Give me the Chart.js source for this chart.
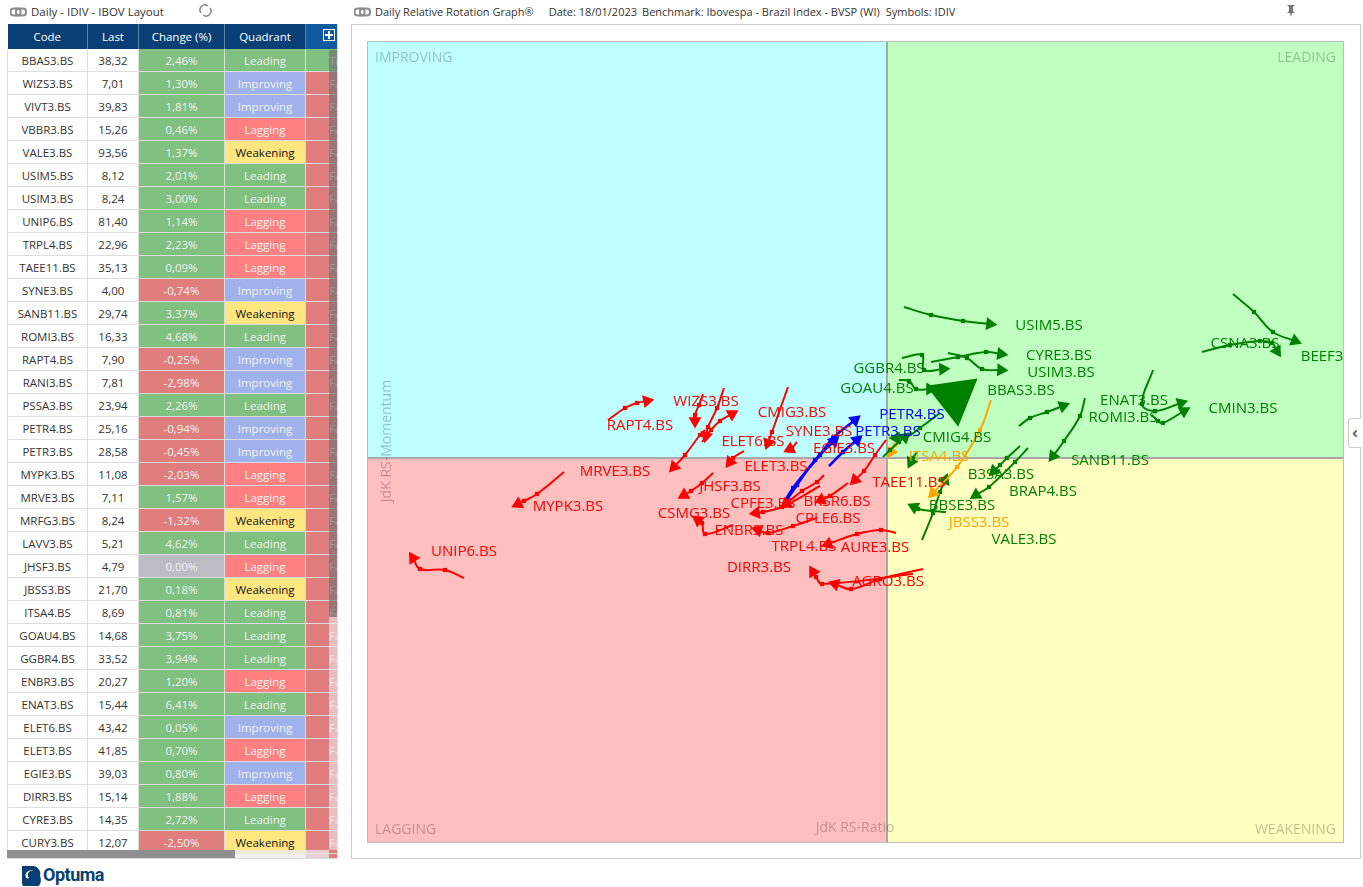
<!DOCTYPE html>
<html>
<head>
<meta charset="utf-8">
<script src="https://cdn.jsdelivr.net/npm/chart.js@4"></script>
<style>
html,body{margin:0;padding:0;background:#fff;width:1363px;height:887px;overflow:hidden;font-family:"Open Sans",sans-serif;}
.abs{position:absolute;}
#title1,#title2{color:#333;font-size:11.5px;white-space:nowrap;line-height:14px;}
#title2{font-size:11px;}
#title2 span{margin-left:15px;}
#title2 span.b{margin-left:5px;}
#title2 span.s{margin-left:6px;}
#tablewrap{left:7px;top:24px;width:330px;height:834px;overflow:hidden;border-right:1px solid #ddd;border-bottom:1px solid #ddd;box-sizing:content-box;}
table{border-collapse:collapse;table-layout:fixed;width:420px;font-size:11.5px;color:#333;}
th{height:25px;padding:0;background:#0a3f75;color:#fff;font-weight:400;border-right:1px solid #5f83a6;text-align:center;}
th:last-child{background:#10599e;border-right:0;}
td{height:22px;padding:0;text-align:center;border:1px solid #ddd;border-top:0;white-space:nowrap;overflow:hidden;}
td.w{color:#f2f2f2;}
td.k{color:#111;}
td.x{text-align:left;padding-left:23px;color:#f4dede;background:#e07e7e;}
#frame{left:351px;top:24px;width:1010px;height:835px;border:1px solid #ccc;box-sizing:border-box;}
canvas{position:absolute;left:337px;top:11px;}
#tab{left:1348px;top:418px;width:13px;height:30px;background:#fff;border:1px solid #ccc;border-right:0;border-radius:3px 0 0 3px;box-sizing:border-box;color:#666;font-size:16px;line-height:26px;text-align:center;font-weight:700;}
#logo{left:43px;top:864px;font:700 18px/22px Roboto,sans-serif;color:#0a3f75;letter-spacing:-.5px;}
</style>
</head>
<body>
<svg class="abs" style="left:10px;top:7px" width="17" height="10"><rect x="0.5" y="1.5" width="10" height="7" rx="3" fill="none" stroke="#8a8a8a" stroke-width="2"/><rect x="6" y="1.5" width="10" height="7" rx="3" fill="none" stroke="#8a8a8a" stroke-width="2"/></svg>
<div id="title1" class="abs" style="left:31px;top:5px;">Daily - IDIV - IBOV Layout</div>
<svg class="abs" style="left:199px;top:4px" width="13" height="13"><path d="M2 9A5 5 0 0 1 9 2M11 4A5 5 0 0 1 4 11" fill="none" stroke="#888" stroke-width="1.5"/></svg>
<svg class="abs" style="left:354px;top:7px" width="17" height="10"><rect x="0.5" y="1.5" width="10" height="7" rx="3" fill="none" stroke="#8a8a8a" stroke-width="2"/><rect x="6" y="1.5" width="10" height="7" rx="3" fill="none" stroke="#8a8a8a" stroke-width="2"/></svg>
<div id="title2" class="abs" style="left:375px;top:5px;">Daily Relative Rotation Graph®<span>Date: 18/01/2023</span><span class="b">Benchmark: Ibovespa - Brazil Index - BVSP (WI)</span><span class="s">Symbols: IDIV</span></div>
<svg class="abs" style="left:1285px;top:4px" width="12" height="13"><path d="M2 1H10L8 3V7L10 9H7L6 13L5 9H2L4 7V3Z" fill="#777"/></svg>

<div id="tablewrap" class="abs"><table id="tbl"></table></div>
<div class="abs" style="left:329px;top:50px;width:8px;height:567px;background:rgba(110,110,110,.62)"></div>
<div class="abs" style="left:329px;top:617px;width:8px;height:233px;background:rgba(235,235,235,.6)"></div>
<div class="abs" style="left:235px;top:850px;width:94px;height:8px;background:rgba(235,235,235,.75)"></div>
<div class="abs" style="left:7px;top:850px;width:228px;height:8px;background:#8f8f8f"></div>
<svg class="abs" style="left:323px;top:29px" width="12" height="12"><rect x=".5" y=".5" width="11" height="11" fill="none" stroke="#fff"/><path d="M6 2V10M2 6H10" stroke="#fff" stroke-width="2"/></svg>

<div id="frame" class="abs"></div>
<canvas id="rrg" width="1037" height="862"></canvas>
<div id="tab" class="abs">‹</div>

<svg class="abs" style="left:20px;top:864px" width="22" height="22"><path d="M2 2H14A8 8 0 0 1 20 12A9 9 0 0 1 2 20Z" fill="#0a3f75"/><path d="M6 14A5.5 5.5 0 0 1 15 8A4 4 0 0 0 9 14A3 3 0 0 1 6 14Z" fill="#fff"/></svg>
<div id="logo" class="abs">Optuma</div>

<script>
// ---------- table columns ----------
const codes = ["BBAS3.BS","WIZS3.BS","VIVT3.BS","VBBR3.BS","VALE3.BS","USIM5.BS","USIM3.BS","UNIP6.BS","TRPL4.BS","TAEE11.BS","SYNE3.BS","SANB11.BS","ROMI3.BS","RAPT4.BS","RANI3.BS","PSSA3.BS","PETR4.BS","PETR3.BS","MYPK3.BS","MRVE3.BS","MRFG3.BS","LAVV3.BS","JHSF3.BS","JBSS3.BS","ITSA4.BS","GOAU4.BS","GGBR4.BS","ENBR3.BS","ENAT3.BS","ELET6.BS","ELET3.BS","EGIE3.BS","DIRR3.BS","CYRE3.BS","CURY3.BS"];
const lasts = ["38,32","7,01","39,83","15,26","93,56","8,12","8,24","81,40","22,96","35,13","4,00","29,74","16,33","7,90","7,81","23,94","25,16","28,58","11,08","7,11","8,24","5,21","4,79","21,70","8,69","14,68","33,52","20,27","15,44","43,42","41,85","39,03","15,14","14,35","12,07"];
const changes = [2.46,1.30,1.81,0.46,1.37,2.01,3.00,1.14,2.23,0.09,-0.74,3.37,4.68,-0.25,-2.98,2.26,-0.94,-0.45,-2.03,1.57,-1.32,4.62,0.00,0.18,0.81,3.75,3.94,1.20,6.41,0.05,0.70,0.80,1.88,2.72,-2.50];
const quadrants = ["Leading","Improving","Improving","Lagging","Weakening","Leading","Leading","Lagging","Lagging","Lagging","Improving","Weakening","Leading","Improving","Improving","Leading","Improving","Improving","Lagging","Lagging","Weakening","Leading","Lagging","Weakening","Leading","Leading","Leading","Lagging","Leading","Improving","Lagging","Improving","Lagging","Leading","Weakening"];

// ---------- tails: [RS-Ratio, RS-Momentum] ----------
const tUSIM5 = [[100.17,101.51],[100.44,101.43],[100.76,101.37],[101.03,101.34]];
const tCYRE3 = [[100.44,100.96],[100.71,101.01],[100.99,101.06],[101.14,101.04]];
const tUSIM3 = [[100.61,101.05],[100.80,101.00],[100.95,100.89],[101.14,100.88]];
const tGGBR4 = [[100.15,101.00],[100.35,101.03],[100.37,100.88],[100.56,100.89]];
const tGOAU4 = [[100.12,100.78],[100.22,100.77],[100.29,100.69],[100.43,100.69]];
const tBBAS3 = [[100.65,100.75],[100.66,100.68],[100.67,100.61]];
const tCMIG4 = [[100.53,100.45],[100.33,100.30],[100.18,100.20],[100.09,100.20]];
const tPSSA3 = [[99.96,100.01],[100.03,100.08],[100.12,100.16],[100.18,100.21]];
const tLAVV3 = [[100.30,100.06],[100.26,100.00],[100.24,99.96]];
const tITSA4 = [[100.13,100.21],[100.08,100.13],[100.04,100.06]];
const tJBSS3 = [[101.04,100.58],[100.93,100.28],[100.70,99.91],[100.46,99.65]];
const tB3SA3 = [[101.33,100.12],[101.20,100.00],[101.13,99.93],[101.07,99.87]];
const tBRAP4 = [[101.41,100.10],[101.28,99.96],[101.02,99.71],[100.89,99.63]];
const tVALE3 = [[100.35,99.18],[100.46,99.45],[100.53,99.66],[100.58,99.78]];
const tBBSE3 = [[100.59,99.46],[100.46,99.47],[100.31,99.49],[100.27,99.51]];
const tENAT3 = [[102.66,100.88],[102.55,100.54],[102.68,100.47],[102.94,100.55]];
const tROMI3 = [[102.65,100.43],[102.71,100.37],[102.76,100.35],[102.97,100.47]];
const tCSNA3 = [[103.15,101.06],[103.43,101.13],[103.73,101.17],[103.85,101.15],[103.90,101.07]];
const tBEEF3 = [[103.46,101.64],[103.67,101.46],[103.86,101.26],[104.08,101.17]];
const tSANB11 = [[101.98,100.60],[101.93,100.42],[101.77,100.17],[101.66,100.02]];
const tCMIN3 = [[101.32,100.32],[101.43,100.40],[101.60,100.46],[101.76,100.52]];
const tUNIP6 = [[95.77,98.80],[95.58,98.88],[95.33,98.89],[95.26,99.00]];
const tMYPK3 = [[96.77,99.86],[96.50,99.64],[96.37,99.57],[96.31,99.54]];
const tRAPT4 = [[97.21,100.38],[97.38,100.50],[97.50,100.55],[97.60,100.57]];
const tWIZS3 = [[98.16,100.64],[98.12,100.53],[98.08,100.43],[98.08,100.37]];
const tELET6 = [[98.37,100.70],[98.30,100.50],[98.21,100.31],[98.19,100.22]];
const tVIVT3 = [[98.15,100.16],[98.24,100.28],[98.33,100.37],[98.45,100.44]];
const tMRVE3 = [[98.18,100.28],[98.13,100.23],[97.98,100.03],[97.87,99.91]];
const tCMIG3 = [[99.01,100.71],[98.85,100.26],[98.81,100.15]];
const tSYNE3 = [[99.10,100.16],[99.05,100.10],[99.03,100.09]];
const tELET3 = [[98.57,100.07],[98.46,100.00],[98.43,99.96]];
const tJHSF3 = [[98.26,99.85],[98.15,99.75],[98.04,99.67],[97.97,99.63]];
const tCSMG3 = [[98.46,99.33],[98.18,99.24],[98.15,99.35],[98.11,99.38]];
const tENBR3 = [[99.30,99.40],[99.06,99.32],[98.81,99.25],[98.71,99.28]];
const tCPFE3 = [[99.33,99.72],[98.95,99.51],[98.76,99.46],[98.69,99.45]];
const tCPLE6 = [[99.37,99.83],[99.30,99.76],[99.15,99.67],[98.99,99.54]];
const tTAEE11 = [[99.99,100.18],[99.88,100.03],[99.77,99.87],[99.68,99.78]];
const tBRSR6 = [[99.61,99.75],[99.43,99.62],[99.34,99.58]];
const tAURE3 = [[100.09,99.25],[99.94,99.28],[99.70,99.24],[99.41,99.14]];
const tAGRO3 = [[100.36,98.89],[99.93,98.79],[99.64,98.69],[99.48,98.74]];
const tDIRR3 = [[100.26,98.84],[99.35,98.74],[99.29,98.81],[99.26,98.86]];
const tPETR4 = [[98.95,99.51],[99.06,99.70],[99.33,100.03],[99.46,100.20],[99.68,100.38]];
const tPETR3 = [[98.95,99.51],[99.10,99.73],[99.28,99.98],[99.47,100.17]];
const tRANI3 = [[99.42,99.92],[99.56,100.06],[99.70,100.18]];

const tailNames = ["USIM5","CYRE3","USIM3","GGBR4","GOAU4","CMIG4","PSSA3","LAVV3","ITSA4","JBSS3","B3SA3","BRAP4","VALE3","BBSE3","ENAT3","ROMI3","CSNA3","BEEF3","SANB11","CMIN3","UNIP6","MYPK3","RAPT4","WIZS3","ELET6","VIVT3","MRVE3","CMIG3","SYNE3","ELET3","JHSF3","CSMG3","ENBR3","CPFE3","CPLE6","TAEE11","BRSR6","AURE3","AGRO3","DIRR3","PETR4","PETR3","RANI3","BBAS3"];
const tails = [tUSIM5,tCYRE3,tUSIM3,tGGBR4,tGOAU4,tCMIG4,tPSSA3,tLAVV3,tITSA4,tJBSS3,tB3SA3,tBRAP4,tVALE3,tBBSE3,tENAT3,tROMI3,tCSNA3,tBEEF3,tSANB11,tCMIN3,tUNIP6,tMYPK3,tRAPT4,tWIZS3,tELET6,tVIVT3,tMRVE3,tCMIG3,tSYNE3,tELET3,tJHSF3,tCSMG3,tENBR3,tCPFE3,tCPLE6,tTAEE11,tBRSR6,tAURE3,tAGRO3,tDIRR3,tPETR4,tPETR3,tRANI3,tBBAS3];

// ---------- symbol labels (read at their plotted place) ----------
const labelNames = ["USIM5.BS","CYRE3.BS","USIM3.BS","GGBR4.BS","GOAU4.BS","BBAS3.BS","ENAT3.BS","ROMI3.BS","CMIN3.BS","CSNA3.BS","BEEF3.BS","PETR4.BS","PETR3.BS","CMIG4.BS","ITSA4.BS","SANB11.BS","B3SA3.BS","BRAP4.BS","TAEE11.BS","BBSE3.BS","JBSS3.BS","VALE3.BS","AGRO3.BS","AURE3.BS","TRPL4.BS","DIRR3.BS","CPLE6.BS","ENBR3.BS","BRSR6.BS","CPFE3.BS","CSMG3.BS","JHSF3.BS","ELET3.BS","ELET6.BS","EGIE3.BS","SYNE3.BS","CMIG3.BS","WIZS3.BS","RAPT4.BS","MRVE3.BS","MYPK3.BS","UNIP6.BS"];
const labelRatio = [101.62,101.72,101.74,100.02,99.90,101.34,102.47,102.36,103.56,103.58,104.46,100.25,100.01,100.70,100.52,102.23,101.14,101.56,100.22,100.75,100.92,101.37,100.01,99.88,99.17,98.72,99.41,98.62,99.50,98.76,98.07,98.43,98.89,98.66,99.57,99.32,99.05,98.19,97.53,97.28,96.81,95.77];
const labelMomentum = [101.33,101.03,100.86,100.90,100.70,100.68,100.58,100.41,100.50,101.15,101.02,100.44,100.27,100.21,100.02,99.98,99.84,99.67,99.76,99.53,99.36,99.19,98.77,99.11,99.12,98.91,99.40,99.28,99.57,99.55,99.45,99.72,99.92,100.17,100.10,100.27,100.46,100.57,100.33,99.87,99.52,99.07];

const redNames = ["AGRO3","AURE3","TRPL4","DIRR3","CPLE6","ENBR3","BRSR6","CPFE3","CSMG3","JHSF3","ELET3","ELET6","EGIE3","SYNE3","CMIG3","WIZS3","RAPT4","MRVE3","MYPK3","UNIP6","TAEE11","VIVT3"];
const blueNames = ["PETR4","PETR3","RANI3"];
const orangeNames = ["ITSA4","JBSS3"];

const quadrantNames = ["IMPROVING","LEADING","LAGGING","WEAKENING"];
const axisRatioTitle = "JdK RS-Ratio";
const axisMomentumTitle = "JdK RS-Momentum";

// ---------- colours ----------
const GREEN="#008000", RED="#ff0000", BLUE="#0000ff", ORANGE="#ffa500";
function colorOf(n){const b=n.replace(".BS","");
  return redNames.includes(b)?RED:blueNames.includes(b)?BLUE:orangeNames.includes(b)?ORANGE:GREEN;}
const quadColor={Leading:"#80c080",Improving:"#a0b2ec",Lagging:"#ff8080",Weakening:"#ffe680"};

// ---------- table ----------
const tbl=document.getElementById("tbl");
let h='<colgroup><col style="width:80px"><col style="width:51px"><col style="width:86px"><col style="width:81px"><col></colgroup>';
h+='<tr><th>Code</th><th>Last</th><th>Change (%)</th><th>Quadrant</th><th></th></tr>';
codes.forEach((c,i)=>{
  const v=changes[i], bg=v>0?"#80c080":v<0?"#e07e7e":"#bcbcc4";
  const txt=v.toFixed(2).replace(".",",")+"%", q=quadrants[i];
  const last=i===0?' style="background:#80c080"':'';
  h+=`<tr><td>${c}</td><td>${lasts[i]}</td><td class="w" style="background:${bg}">${txt}</td><td class="${q==="Weakening"?"k":"w"}" style="background:${quadColor[q]}">${q}</td><td class="x"${last}>${i===0?"True":"False"}</td></tr>`;
});
h+='<tr><td></td><td></td><td style="background:#80c080"></td><td></td><td class="x"></td></tr>';
tbl.innerHTML=h;

// ---------- chart ----------
const bigArrow="BBAS3";
const lineDatasets=tails.map((t,i)=>{
  const n=tailNames[i], col=colorOf(n), last=t.length-1;
  const headR=n===bigArrow?30:7.5;
  return {
    label:n,
    data:t.map(p=>({x:p[0],y:p[1]})),
    showLine:true,
    borderColor:col,
    backgroundColor:col,
    borderWidth:blueNames.includes(n)?2.6:2,
    tension:0.4,
    pointBorderWidth:0,
    pointBackgroundColor:col,
    pointHoverRadius:0,
    pointStyle:c=>c.dataIndex===last?"triangle":"rect",
    pointRadius:c=>c.dataIndex===0?0:(c.dataIndex===last?headR:3),
    pointRotation:c=>{
      if(c.dataIndex!==last) return 0;
      const a=t[last-1], b=t[last];
      return Math.atan2(b[0]-a[0],b[1]-a[1])*180/Math.PI;
    }
  };
});

const rrgBackdrop={
  id:"rrgBackdrop",
  beforeDatasetsDraw(chart){
    const {ctx,chartArea:a,scales:{x,y}}=chart;
    const cx=x.getPixelForValue(100), cy=y.getPixelForValue(100);
    ctx.save();
    ctx.fillStyle="#bfffff"; ctx.fillRect(a.left,a.top,cx-a.left,cy-a.top);
    ctx.fillStyle="#bfffbf"; ctx.fillRect(cx,a.top,a.right-cx,cy-a.top);
    ctx.fillStyle="#ffbfbf"; ctx.fillRect(a.left,cy,cx-a.left,a.bottom-cy);
    ctx.fillStyle="#ffffbf"; ctx.fillRect(cx,cy,a.right-cx,a.bottom-cy);
    ctx.strokeStyle="#a8a8a8"; ctx.lineWidth=2;
    ctx.beginPath(); ctx.moveTo(cx,a.top); ctx.lineTo(cx,a.bottom); ctx.moveTo(a.left,cy); ctx.lineTo(a.right,cy); ctx.stroke();
    ctx.strokeStyle="#bdbdbd"; ctx.lineWidth=1;
    ctx.strokeRect(a.left+.5,a.top+.5,a.right-a.left-1,a.bottom-a.top-1);
    ctx.font='14px "Open Sans"'; ctx.fillStyle="rgba(0,0,0,.25)"; ctx.textBaseline="middle";
    ctx.textAlign="left";
    ctx.fillText(quadrantNames[0],a.left+8,a.top+17);
    ctx.fillText(quadrantNames[2],a.left+8,a.bottom-13);
    ctx.textAlign="right";
    ctx.fillText(quadrantNames[1],a.right-8,a.top+17);
    ctx.fillText(quadrantNames[3],a.right-8,a.bottom-13);
    ctx.textAlign="center";
    ctx.fillText(axisRatioTitle,x.getPixelForValue(99.68),a.bottom-15);
    ctx.translate(a.left+20,y.getPixelForValue(100.17));
    ctx.rotate(-Math.PI/2);
    ctx.fillText(axisMomentumTitle,0,0);
    ctx.restore();
  }
};
const rrgLabels={
  id:"rrgLabels",
  afterDatasetsDraw(chart){
    const {ctx,chartArea:a,scales:{x,y}}=chart;
    ctx.save();
    ctx.beginPath(); ctx.rect(a.left,a.top,a.right-a.left,a.bottom-a.top); ctx.clip();
    ctx.font='15px "Open Sans"'; ctx.textAlign="center"; ctx.textBaseline="middle";
    labelNames.forEach((n,i)=>{
      ctx.fillStyle=colorOf(n);
      ctx.fillText(n,x.getPixelForValue(labelRatio[i]),y.getPixelForValue(labelMomentum[i])+1);
    });
    ctx.restore();
  }
};

new Chart(document.getElementById("rrg"),{
  type:"scatter",
  data:{datasets:lineDatasets},
  plugins:[rrgBackdrop,rrgLabels],
  options:{
    responsive:false,
    animation:false,
    devicePixelRatio:1,
    layout:{padding:30},
    plugins:{legend:{display:false},tooltip:{enabled:false},title:{display:false}},
    events:[],
    scales:{
      x:{type:"linear",min:94.80,max:104.57,display:false},
      y:{type:"linear",min:96.15,max:104.17,display:false}
    }
  }
});
</script>
</body>
</html>
